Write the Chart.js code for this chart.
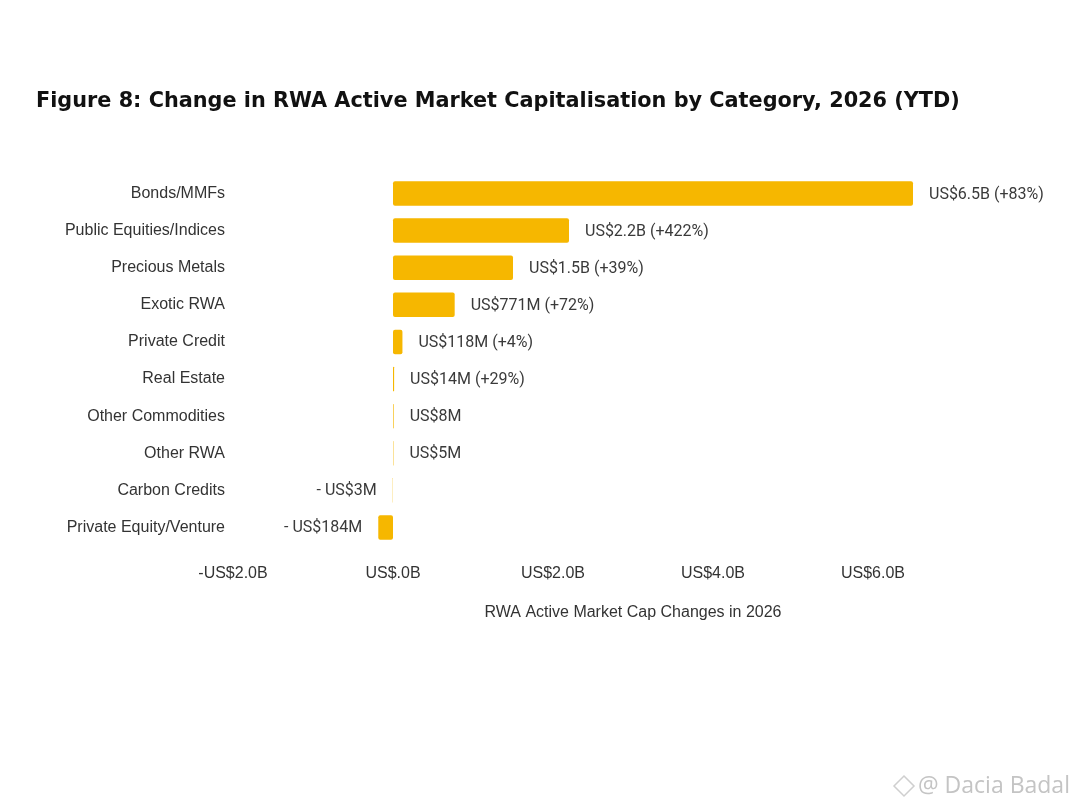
<!DOCTYPE html>
<html>
<head>
<meta charset="utf-8">
<title>RWA Active Market Cap Changes</title>
<script src="https://cdn.jsdelivr.net/npm/chart.js@4.4.1/dist/chart.umd.min.js"></script>
<style>
  html, body { margin: 0; padding: 0; background: #fff; }
  #wrap { width: 1080px; height: 810px; }
</style>
</head>
<body>
<div id="wrap"><canvas id="rwaChart" width="1080" height="810"></canvas></div>
<script>
// категории и значения (млрд US$)
const categories = [
  'Bonds/MMFs',
  'Public Equities/Indices',
  'Precious Metals',
  'Exotic RWA',
  'Private Credit',
  'Real Estate',
  'Other Commodities',
  'Other RWA',
  'Carbon Credits',
  'Private Equity/Venture'
];
const changeBn = [6.5, 2.2, 1.5, 0.771, 0.118, 0.014, 0.008, 0.005, -0.003, -0.184];
const barLabels = [
  'US$6.5B (+83%)',
  'US$2.2B (+422%)',
  'US$1.5B (+39%)',
  'US$771M (+72%)',
  'US$118M (+4%)',
  'US$14M (+29%)',
  'US$8M',
  'US$5M',
  '- US$3M',
  '- US$184M'
];
const tickLabels = ['-US$2.0B', 'US$.0B', 'US$2.0B', 'US$4.0B', 'US$6.0B', ''];

// подписи у концов столбцов
const barValueLabels = {
  id: 'barValueLabels',
  afterDatasetsDraw(chart) {
    const ctx = chart.ctx;
    const meta = chart.getDatasetMeta(0);
    ctx.save();
    ctx.font = '16px Roboto';
    ctx.fillStyle = '#3a3a3a';
    ctx.textBaseline = 'middle';
    meta.data.forEach((bar, i) => {
      const v = changeBn[i];
      if (v >= 0) {
        ctx.textAlign = 'left';
        ctx.fillText(barLabels[i], bar.x + 16, bar.y + 1);
      } else {
        ctx.textAlign = 'right';
        ctx.fillText(barLabels[i], bar.x - 16, bar.y + 1);
      }
    });
    ctx.restore();
  }
};

// подпись в правом нижнем углу
const watermark = {
  id: 'watermark',
  afterDraw(chart) {
    const ctx = chart.ctx;
    ctx.save();
    ctx.strokeStyle = '#cfcfcf';
    ctx.lineWidth = 1.5;
    ctx.beginPath();
    ctx.moveTo(904, 776);
    ctx.lineTo(914, 786);
    ctx.lineTo(904, 796);
    ctx.lineTo(894, 786);
    ctx.closePath();
    ctx.stroke();
    ctx.fillStyle = '#c4c4c4';
    ctx.font = '23px "Open Sans"';
    ctx.textAlign = 'left';
    ctx.textBaseline = 'middle';
    ctx.fillText('@ Dacia Badal', 918, 786);
    ctx.restore();
  }
};

const ctx = document.getElementById('rwaChart');
new Chart(ctx, {
  type: 'bar',
  data: {
    labels: categories,
    datasets: [{
      data: changeBn,
      backgroundColor: '#F6B700',
      borderRadius: 2,
      borderSkipped: false,
      barPercentage: 0.66,
      categoryPercentage: 1
    }]
  },
  options: {
    indexAxis: 'y',
    responsive: false,
    animation: false,
    layout: {
      padding: { left: 36, right: 47, top: 0, bottom: 184 }
    },
    plugins: {
      legend: { display: false },
      tooltip: { enabled: false },
      title: {
        display: true,
        text: 'Figure 8: Change in RWA Active Market Capitalisation by Category, 2026 (YTD)',
        align: 'start',
        color: '#111',
        font: { family: 'DejaVu Sans', size: 20.8, weight: 'bold' },
        padding: { top: 89, bottom: 61 }
      }
    },
    scales: {
      x: {
        min: -2,
        max: 8,
        ticks: {
          stepSize: 2,
          padding: 10,
          color: '#333',
          font: { family: 'Liberation Sans', size: 16 },
          callback: (value, index) => tickLabels[index]
        },
        grid: { display: false },
        border: { display: false },
        title: {
          display: true,
          text: 'RWA Active Market Cap Changes in 2026',
          color: '#333',
          font: { family: 'Liberation Sans', size: 16 },
          padding: { top: 4, bottom: 4 }
        },
        afterFit: scale => { scale.height = 80; }
      },
      y: {
        ticks: {
          padding: 0,
          color: '#333',
          font: { family: 'Liberation Sans', size: 16 }
        },
        grid: { display: false },
        border: { display: false },
        afterFit: scale => { scale.width = 197; }
      }
    }
  },
  plugins: [barValueLabels, watermark]
});
</script>
</body>
</html>
